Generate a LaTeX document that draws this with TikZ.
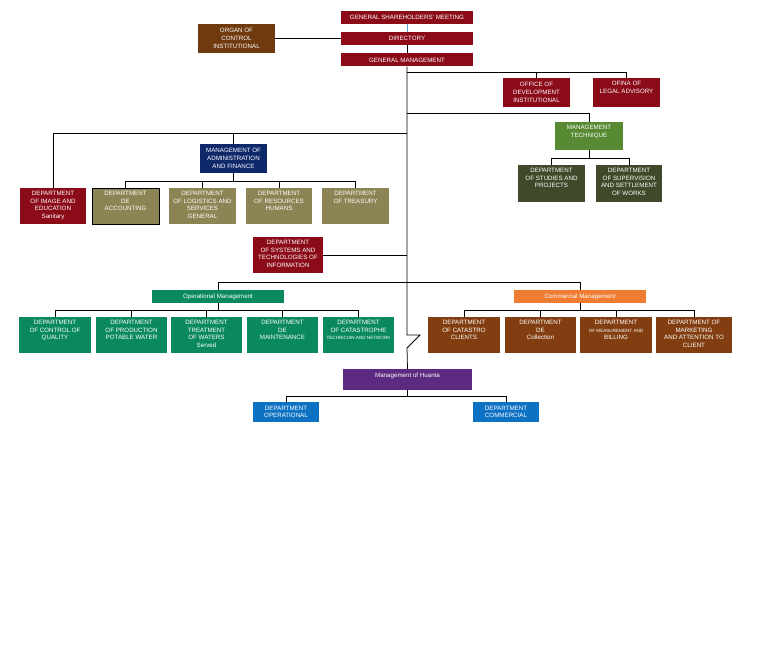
\documentclass[tikz,border=0pt]{standalone}
\usepackage{fontspec}
\setmainfont{Liberation Sans}
\usepackage{tikz}
\usetikzlibrary{positioning}
\usepackage{xcolor}

\definecolor{chartred}{RGB}{139,12,24}
\definecolor{organbrown}{RGB}{110,58,14}
\definecolor{techgreen}{RGB}{88,138,52}
\definecolor{darkgreen}{RGB}{64,74,42}
\definecolor{adminnavy}{RGB}{14,40,106}
\definecolor{deptolive}{RGB}{140,132,84}
\definecolor{opsgreen}{RGB}{10,138,92}
\definecolor{comorange}{RGB}{240,124,50}
\definecolor{combrown}{RGB}{130,62,16}
\definecolor{huantapurple}{RGB}{92,42,128}
\definecolor{huantablue}{RGB}{14,114,196}
\definecolor{linkblue}{RGB}{91,155,213}

\newcommand{\dfont}{\fontsize{6.2}{7.7}\selectfont}
\newcommand{\tinyfont}{\fontsize{4.6}{5.5}\selectfont}
% text sitting at the top of a box
\newcommand{\tb}[2][32pt]{\vbox to #1{\hbox{\begin{tabular}[t]{@{}c@{}}#2\end{tabular}}\vfil}}

\begin{document}
\begin{tikzpicture}[x=1pt,y=-1pt,
    box/.style={rectangle, inner sep=0pt, text=white, font=\dfont},
    wide/.style={box, align=center, minimum width=132pt, minimum height=13pt},
    dept/.style={box, minimum width=67pt, minimum height=36pt},
    link/.style={line width=0.75pt}]
    \useasboundingbox (0,0) rectangle (768,669);

    % top of the chart
    \node[wide, fill=chartred] (gsm) at (407,17.5) {GENERAL SHAREHOLDERS' MEETING};
    \node[wide, fill=chartred] (dir) at (407,38.5) {DIRECTORY};
    \node[wide, fill=chartred] (gm) at (407,60) {GENERAL MANAGEMENT};
    \node[box, align=center, fill=organbrown, minimum width=77pt, minimum height=29pt] (organ) at (236.5,38.5) {ORGAN OF\\CONTROL\\INSTITUTIONAL};

    \node[box, align=center, fill=chartred, minimum width=67pt, minimum height=29pt] (office) at (536.5,92.5) {OFFICE OF\\DEVELOPMENT\\INSTITUTIONAL};
    \node[box, fill=chartred, minimum width=67pt, minimum height=29pt] (legal) at (626.5,92.5) {\tb[25pt]{OFINA OF\\LEGAL ADVISORY}};

    \node[box, fill=techgreen, minimum width=68pt, minimum height=28pt] (mtech) at (589,136) {\tb[24pt]{MANAGEMENT\\TECHNIQUE}};
    \node[dept, fill=darkgreen, minimum height=37pt] (studies) at (551.5,183.5) {\tb[33pt]{DEPARTMENT\\OF STUDIES AND\\PROJECTS}};
    \node[dept, fill=darkgreen, minimum width=66pt, minimum height=37pt] (superv) at (629,183.5) {\tb[33pt]{DEPARTMENT\\OF SUPERVISION\\AND SETTLEMENT\\OF WORKS}};

    % administration
    \node[dept, fill=chartred, minimum width=66pt] (image) at (53,206) {\tb{DEPARTMENT\\OF IMAGE AND\\EDUCATION\\Sanitary}};
    \node[box, align=center, fill=adminnavy, minimum width=67pt, minimum height=29pt] (admin) at (233.5,158.5) {MANAGEMENT OF\\ADMINISTRATION\\AND FINANCE};
    \node[dept, fill=deptolive, draw=black, line width=0.8pt] (acct) at (125.5,206) {\tb{DEPARTMENT\\DE\\ACCOUNTING}};
    \node[dept, fill=deptolive] (logist) at (202.5,206) {\tb{DEPARTMENT\\OF LOGISTICS AND\\SERVICES\\GENERAL}};
    \node[dept, fill=deptolive, minimum width=66pt] (resour) at (279,206) {\tb{DEPARTMENT\\OF RESOURCES\\HUMANS}};
    \node[dept, fill=deptolive] (treas) at (355.5,206) {\tb{DEPARTMENT\\OF TREASURY}};

    \node[dept, fill=chartred, minimum width=70pt] (systems) at (288,255) {\tb{DEPARTMENT\\OF SYSTEMS AND\\TECHNOLOGIES OF\\INFORMATION}};

    % operational and commercial
    \node[wide, fill=opsgreen] (opm) at (218,296.5) {Operational Management};
    \node[wide, fill=comorange] (cpm) at (580,296.5) {Commercial Management};

    \node[dept, fill=opsgreen, minimum width=72pt] (quality) at (55,335) {\tb{DEPARTMENT\\OF CONTROL OF\\QUALITY}};
    \node[dept, fill=opsgreen, minimum width=71pt] (prod) at (131.5,335) {\tb{DEPARTMENT\\OF PRODUCTION\\POTABLE WATER}};
    \node[dept, fill=opsgreen, minimum width=71pt] (treat) at (206.5,335) {\tb{DEPARTMENT\\TREATMENT\\OF WATERS\\Served}};
    \node[dept, fill=opsgreen, minimum width=71pt] (maint) at (282.5,335) {\tb{DEPARTMENT\\DE\\MAINTENANCE}};
    \node[dept, fill=opsgreen, minimum width=71pt] (catas) at (358.5,335) {\tb{DEPARTMENT\\OF CATASTROPHE\\{\tinyfont TECHNICIAN AND NETWORK}}};

    \node[dept, fill=combrown, minimum width=72pt] (clients) at (464,335) {\tb{DEPARTMENT\\OF CATASTRO\\CLIENTS}};
    \node[dept, fill=combrown, minimum width=71pt] (collect) at (540.5,335) {\tb{DEPARTMENT\\DE\\Collection}};
    \node[dept, fill=combrown, minimum width=72pt] (measure) at (616,335) {\tb{DEPARTMENT\\{\tinyfont OF MEASUREMENT AND}\\BILLING}};
    \node[dept, fill=combrown, minimum width=76pt] (market) at (694,335) {\tb{DEPARTMENT OF\\MARKETING\\AND ATTENTION TO\\CLIENT}};

    % Huanta
    \node[box, fill=huantapurple, minimum width=129pt, minimum height=21pt] (huanta) at (407.5,379.5) {\tb[14pt]{Management of Huanta}};
    \node[box, align=center, fill=huantablue, minimum width=66pt, minimum height=20pt] (dop) at (286,412) {DEPARTMENT\\OPERATIONAL};
    \node[box, align=center, fill=huantablue, minimum width=66pt, minimum height=20pt] (dcom) at (506,412) {DEPARTMENT\\COMMERCIAL};

    % junctions on the trunk
    \coordinate (t1) at (407,72);
    \coordinate (t2) at (407,113);
    \coordinate (t3) at (407,133);
    \coordinate (t4) at (407,255);
    \coordinate (t5) at (407,282);
    \coordinate (t6) at (407,335);
    \coordinate (jog) at (420,335);
    \coordinate (t7) at (407,348);
    \coordinate (mt) at (589,158);
    \coordinate (ad) at (233.5,181);
    \coordinate (op) at (218,310);
    \coordinate (cm) at (580,310);
    \coordinate (hu) at (407.5,396);

    \draw[link, draw=linkblue] (gsm) -- (dir);
    \draw[link] (organ) -- (dir);
    \draw[link] (dir) -- (gm);
    \draw[link] (gm.south) -- (t6) -- (jog) -- (t7) -- (huanta.north);

    \draw[link] (t1) -| (office.north);
    \draw[link] (t1) -| (legal.north);
    \draw[link] (t2) -| (mtech.north);
    \draw[link] (mtech) -- (mt);
    \draw[link] (mt) -| (studies.north);
    \draw[link] (mt) -| (superv.north);

    \draw[link] (t3) -| (image.north);
    \draw[link] (admin.north) -- (admin.north |- t3);
    \draw[link] (admin) -- (ad);
    \foreach \n in {acct,logist,resour,treas}
        \draw[link] (ad) -| (\n.north);

    \draw[link] (systems.east) -- (t4);

    \draw[link] (t5) -| (opm.north);
    \draw[link] (t5) -| (cpm.north);
    \draw[link] (opm) -- (op);
    \foreach \n in {quality,prod,treat,maint,catas}
        \draw[link] (op) -| (\n.north);
    \draw[link] (cpm) -- (cm);
    \foreach \n in {clients,collect,measure,market}
        \draw[link] (cm) -| (\n.north);

    \draw[link] (huanta) -- (hu);
    \draw[link] (hu) -| (dop.north);
    \draw[link] (hu) -| (dcom.north);
\end{tikzpicture}
\end{document}
